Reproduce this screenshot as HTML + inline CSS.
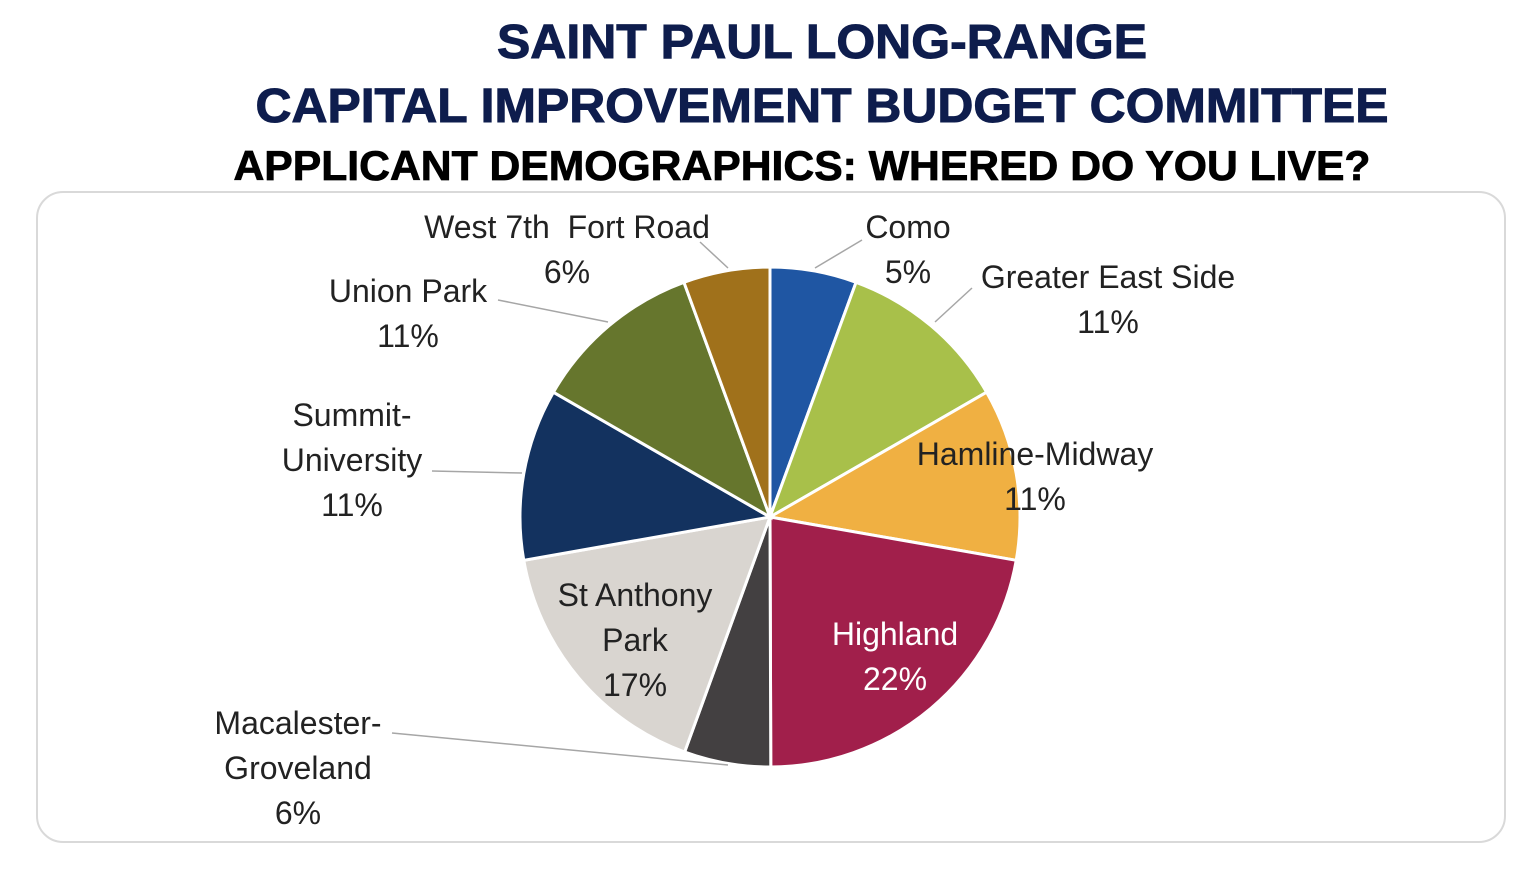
<!DOCTYPE html>
<html><head><meta charset="utf-8"><style>
html,body{margin:0;padding:0;background:#fff;}
svg{display:block;font-family:"Liberation Sans",sans-serif;}
</style></head><body>
<svg id="chart" width="1536" height="880" viewBox="0 0 1536 880">
<text x="822" y="58" text-anchor="middle" font-size="48" font-weight="bold" fill="#0e1d4d" stroke="#0e1d4d" stroke-width="1" textLength="650" lengthAdjust="spacingAndGlyphs">SAINT PAUL LONG-RANGE</text>
<text x="822" y="122" text-anchor="middle" font-size="48" font-weight="bold" fill="#0e1d4d" stroke="#0e1d4d" stroke-width="1" textLength="1133" lengthAdjust="spacingAndGlyphs">CAPITAL IMPROVEMENT BUDGET COMMITTEE</text>
<text x="802" y="180" text-anchor="middle" font-size="42" font-weight="bold" fill="#000" stroke="#000" stroke-width="0.8" textLength="1137" lengthAdjust="spacingAndGlyphs">APPLICANT DEMOGRAPHICS: WHERED DO YOU LIVE?</text>
<rect x="37" y="192" width="1468" height="650" rx="26" fill="#fff" stroke="#d9d9d9" stroke-width="2"/>
<g id="slices"></g>
<g id="labels"></g>
</svg>
<script>
const categories = ["Como","Greater East Side","Hamline-Midway","Highland","Macalester-Groveland","St Anthony Park","Summit-University","Union Park","West 7th  Fort Road"];
const values = [5.6,11.1,11.1,22.2,5.6,16.7,11.1,11.1,5.6];
const valueLabels = ["5%","11%","11%","22%","6%","17%","11%","11%","6%"];
const colors = ["#1f56a3","#a8c04a","#f0b042","#a11f4b","#434041","#d9d5d0","#13325f","#66762d","#a0711b"];
const layout = [
 {lines:["Como","5%"],x:908,y:238,c:"#222",lead:[862,240,815,268]},
 {lines:["Greater East Side","11%"],x:1108,y:288,c:"#222",lead:[972,288,935,322]},
 {lines:["Hamline-Midway","11%"],x:1035,y:465,c:"#222",lead:null},
 {lines:["Highland","22%"],x:895,y:645,c:"#fff",lead:null},
 {lines:["Macalester-","Groveland","6%"],x:298,y:734,c:"#222",lead:[392,733,728,765]},
 {lines:["St Anthony","Park","17%"],x:635,y:606,c:"#222",lead:null},
 {lines:["Summit-","University","11%"],x:352,y:426,c:"#222",lead:[432,471,522,473]},
 {lines:["Union Park","11%"],x:408,y:302,c:"#222",lead:[498,300,608,322]},
 {lines:["West 7th\u00a0\u00a0Fort Road","6%"],x:567,y:238,c:"#222",lead:[700,242,728,268]}
];
const cx=770, cy=517, R=250;
const NS="http://www.w3.org/2000/svg";
const total = values.reduce((a,b)=>a+b,0);
function angleOf(v){return v/total*2*Math.PI;}
function pt(a,r){return [cx+r*Math.sin(a), cy-r*Math.cos(a)];}
const gs=document.getElementById('slices'), gl=document.getElementById('labels');
let a0=0;
values.forEach((v,i)=>{
  const a1=a0+angleOf(v);
  const p0=pt(a0,R), p1=pt(a1,R);
  const large=(a1-a0)>Math.PI?1:0;
  const p=document.createElementNS(NS,'path');
  p.setAttribute('d',`M${cx},${cy} L${p0[0]},${p0[1]} A${R},${R} 0 ${large} 1 ${p1[0]},${p1[1]} Z`);
  p.setAttribute('fill',colors[i]);
  p.setAttribute('stroke','#fff');
  p.setAttribute('stroke-width','3');
  
  
  gs.appendChild(p);
  a0=a1;
});
layout.forEach((L,i)=>{
  if(L.lead){
    const ln=document.createElementNS(NS,'polyline');
    ln.setAttribute('points',`${L.lead[0]},${L.lead[1]} ${L.lead[2]},${L.lead[3]}`);
    ln.setAttribute('stroke','#a6a6a6');ln.setAttribute('stroke-width','1.5');ln.setAttribute('fill','none');
    
    
    gl.appendChild(ln);
  }
  const t=document.createElementNS(NS,'text');
  t.setAttribute('text-anchor','middle');t.setAttribute('font-size','32');t.setAttribute('fill',L.c);
  
  
  const lines=L.lines.slice(0,-1).concat([valueLabels[i]]);
  lines.forEach((s,k)=>{
    const ts=document.createElementNS(NS,'tspan');
    ts.setAttribute('x',L.x);ts.setAttribute('y',L.y+k*45);
    ts.textContent=s;t.appendChild(ts);
  });
  gl.appendChild(t);
});
</script>
</body></html>
